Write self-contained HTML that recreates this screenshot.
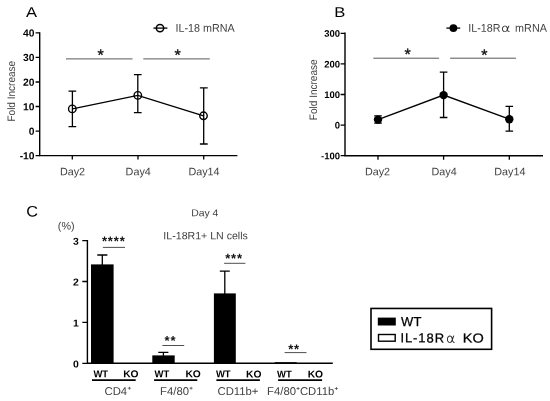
<!DOCTYPE html>
<html><head><meta charset="utf-8"><title>Figure</title>
<style>
html,body{margin:0;padding:0;background:#fff;}
body{width:550px;height:401px;overflow:hidden;}
svg{display:block;font-family:"Liberation Sans",sans-serif;}
.tk{font-weight:bold;font-size:10px;fill:#000;text-anchor:end;}
.g{fill:#424242;}
.ax{stroke:#000;stroke-width:1.4;fill:none;}
.th{stroke:#000;stroke-width:1.3;fill:none;}
.sig{stroke:#444;stroke-width:0.9;fill:none;}
.star{font-size:16px;fill:#111;stroke:#111;stroke-width:0.35px;text-anchor:middle;}
.star2{font-size:13px;font-weight:bold;letter-spacing:0.85px;fill:#111;text-anchor:middle;}
.bw{font-weight:bold;font-size:10px;fill:#000;}
text:not([transform]){transform:rotate(0.03deg);transform-origin:275px 200px;}
</style></head><body>
<svg width="550" height="401" viewBox="0 0 550 401">
<rect width="550" height="401" fill="#fff"/>
<g text-rendering="geometricPrecision">

<!-- Panel A -->
<text x="26" y="17.1" font-size="14.3" fill="#000" textLength="11" lengthAdjust="spacingAndGlyphs">A</text>
<g transform="translate(0,0.3)">
<g class="ax">
<path d="M39.7 32 V155.3 M39 155.3 H237.4"/>
</g>
<g class="th">
<path d="M35.6 32.6H39.7 M35.6 57.1H39.7 M35.6 81.7H39.7 M35.6 106.2H39.7 M35.6 130.8H39.7 M35.6 155.3H39.7"/>
<path d="M72.3 155.3V159.3 M138 155.3V159.3 M203.7 155.3V159.3"/>
</g>
<g class="tk" style="font-size:10.3px">
<text x="34.5" y="36.4">40</text><text x="34.5" y="60.9">30</text><text x="34.5" y="85.5">20</text>
<text x="34.5" y="110.0">10</text><text x="34.5" y="134.6">0</text><text x="34.5" y="159.1">-10</text>
</g>
</g>
<text class="g" font-size="10.8" text-anchor="middle" transform="translate(15.2,91.2) rotate(-90)" textLength="60.7" lengthAdjust="spacingAndGlyphs">Fold Increase</text>
<g class="g" font-size="10.8" text-anchor="middle">
<text x="72.5" y="175.3">Day2</text><text x="138.2" y="175.3">Day4</text><text x="204" y="175.3">Day14</text>
</g>
<!-- data A -->
<g class="th">
<path d="M72.4 91.2V126.7 M68.5 91.2H76.2 M68.5 126.7H76.2"/>
<path d="M137.8 74.7V112.6 M133.9 74.7H141.6 M133.9 112.6H141.6"/>
<path d="M203.7 87.9V144 M199.9 87.9H207.7 M199.9 144H207.7"/>
<path d="M72.4 108.9L137.8 95.4L203.6 115.8" stroke-width="1.4"/>
</g>
<g fill="none" stroke="#000" stroke-width="1.4">
<circle cx="72.3" cy="108.9" r="3.75"/><circle cx="137.8" cy="95.4" r="3.75"/><circle cx="203.5" cy="115.8" r="3.75"/>
</g>
<!-- sig A -->
<path class="sig" d="M66 58.9H132.5 M143.3 58.9H209.8"/>
<text class="star" x="100.6" y="60.5">*</text><text class="star" x="177.5" y="60.5">*</text>
<!-- legend A -->
<path class="th" d="M153.4 28.1H167.4" stroke-width="1.4"/>
<circle cx="160" cy="28.1" r="3.7" fill="none" stroke="#000" stroke-width="1.5"/>
<text class="g" x="175.4" y="31.9" font-size="11.2" textLength="59.2" lengthAdjust="spacingAndGlyphs">IL-18 mRNA</text>

<!-- Panel B -->
<text x="334.2" y="17.1" font-size="14.1" fill="#000" textLength="11.1" lengthAdjust="spacingAndGlyphs">B</text>
<g transform="translate(0,0.4)">
<g class="ax">
<path d="M345 32.2 V155.3 M344.3 155.3 H543"/>
</g>
<g class="th">
<path d="M340.6 32.9H345 M340.6 63.5H345 M340.6 94.1H345 M340.6 124.7H345 M340.6 155.3H345"/>
<path d="M378 155.3V159.3 M443.6 155.3V159.3 M509.3 155.3V159.3"/>
</g>
<g class="tk" style="font-size:9.5px">
<text x="340" y="36.4">300</text><text x="340" y="67">200</text><text x="340" y="97.6">100</text>
<text x="340" y="128.2">0</text><text x="340" y="158.8">-100</text>
</g>
</g>
<text class="g" font-size="10.8" text-anchor="middle" transform="translate(316.9,89.8) rotate(-90)" textLength="60.7" lengthAdjust="spacingAndGlyphs">Fold Increase</text>
<g class="g" font-size="10.8" text-anchor="middle">
<text x="377.5" y="175.2">Day2</text><text x="444.1" y="175.2">Day4</text><text x="509.8" y="175.2">Day14</text>
</g>
<g class="th">
<path d="M378 115.9V123.2 M374.2 115.9H381.8 M374.2 123.2H381.8"/>
<path d="M443.6 72.1V117.5 M439.8 72.1H447.4 M439.8 117.5H447.4"/>
<path d="M509.3 106.4V131.2 M505.5 106.4H513.1 M505.5 131.2H513.1"/>
<path d="M378 119.6L443.6 95.1L509.3 119.2" stroke-width="1.4"/>
</g>
<g fill="#000">
<circle cx="378" cy="119.6" r="4.2"/><circle cx="443.6" cy="95.1" r="4.2"/><circle cx="509.3" cy="119.2" r="4.2"/>
</g>
<path class="sig" d="M373.3 58.2H439.1 M450.1 58.2H515.9"/>
<text class="star" x="407.5" y="59.6">*</text><text class="star" x="484.4" y="60.4">*</text>
<path class="th" d="M446.4 28.1H460.2"/>
<circle cx="453.4" cy="28.1" r="3.9" fill="#000"/>
<text class="g" y="31.7" font-size="11.2"><tspan x="468.2" textLength="32.2" lengthAdjust="spacingAndGlyphs">IL-18R</tspan><tspan x="500.9" font-family="'DejaVu Sans Light','DejaVu Sans',sans-serif" font-weight="200" font-size="10.6" textLength="9.4" lengthAdjust="spacingAndGlyphs" fill="#222" stroke="#222" stroke-width="0.2">α</tspan><tspan x="515" textLength="31.8" lengthAdjust="spacingAndGlyphs">mRNA</tspan></text>

<!-- Panel C -->
<text x="26.3" y="216.7" font-size="15.2" fill="#000" textLength="11.7" lengthAdjust="spacingAndGlyphs">C</text>
<text class="g" x="57.8" y="229.7" font-size="10.8" textLength="16.8" lengthAdjust="spacingAndGlyphs">(%)</text>
<text class="g" x="191.2" y="216.3" font-size="10" textLength="27.2" lengthAdjust="spacingAndGlyphs">Day 4</text>
<text class="g" x="163.4" y="239.2" font-size="10.5" textLength="84.5" lengthAdjust="spacingAndGlyphs">IL-18R1+ LN cells</text>
<g class="ax">
<path d="M87.4 240.1 V363.3 M86.7 363.3 H332.8"/>
</g>
<g class="th">
<path d="M82.3 240.7H87.4 M82.3 281.5H87.4 M82.3 322.4H87.4 M82.3 363.3H87.4"/>
</g>
<g class="tk" style="font-size:10px">
<text x="78.8" y="244.8" textLength="5.8" lengthAdjust="spacingAndGlyphs">3</text><text x="78.8" y="285.7" textLength="5.8" lengthAdjust="spacingAndGlyphs">2</text><text x="78.8" y="326.7" textLength="5.8" lengthAdjust="spacingAndGlyphs">1</text><text x="78.8" y="367.6" textLength="5.8" lengthAdjust="spacingAndGlyphs">0</text>
</g>
<!-- bars -->
<g fill="#000">
<rect x="91" y="264.4" width="22.6" height="98.9"/>
<rect x="152.3" y="355.4" width="22.4" height="7.9"/>
<rect x="213.9" y="293.4" width="21.9" height="69.9"/>
<rect x="274.8" y="362.2" width="21.9" height="1.1"/>
</g>
<g class="th">
<path d="M102.3 255V265 M97.3 255H107.4"/>
<path d="M163.4 352.4V356 M158.3 352.4H168.4"/>
<path d="M224.8 271.2V294 M219.8 271.2H229.8"/>
</g>
<path class="sig" d="M102.9 247.4H125 M162.4 345.5H184.2 M224.1 263.3H245.4 M284.6 352.6H306.5" style="stroke:#3a3a3a"/>
<g class="star2">
<text x="113.8" y="245.6">****</text><text x="170.6" y="345.1">**</text><text x="234.1" y="262.7">***</text><text x="294.2" y="353.5">**</text>
</g>
<g class="bw">
<text x="93.5" y="377.4" textLength="14.7" lengthAdjust="spacingAndGlyphs">WT</text><text x="123.3" y="377.4" textLength="15.4" lengthAdjust="spacingAndGlyphs">KO</text>
<text x="154.7" y="377.4" textLength="14.7" lengthAdjust="spacingAndGlyphs">WT</text><text x="185.5" y="377.4" textLength="15.4" lengthAdjust="spacingAndGlyphs">KO</text>
<text x="216.0" y="377.4" textLength="14.7" lengthAdjust="spacingAndGlyphs">WT</text><text x="246.1" y="377.4" textLength="15.4" lengthAdjust="spacingAndGlyphs">KO</text>
<text x="277.2" y="377.4" textLength="14.7" lengthAdjust="spacingAndGlyphs">WT</text><text x="307.8" y="377.4" textLength="15.4" lengthAdjust="spacingAndGlyphs">KO</text>
</g>
<path d="M92 380.1H135.7 M154.1 380.1H197.3 M216.4 380.1H259.9 M278.1 380.1H322.1" stroke="#000" stroke-width="1.6"/>
<g class="g" font-size="11.3">
<text x="104.6" y="395">CD4<tspan dx="0.3" font-size="6.2" font-weight="bold" dy="-4.6">+</tspan></text>
<text x="160.2" y="395">F4/80<tspan dx="0.3" font-size="6.2" font-weight="bold" dy="-4.6">+</tspan></text>
<text x="217.6" y="395">CD11b+</text>
<text x="267.2" y="395">F4/80<tspan dx="0.3" font-size="6.2" font-weight="bold" dy="-4.6">+</tspan><tspan dy="4.6">CD11b</tspan><tspan dx="0.3" font-size="6.2" font-weight="bold" dy="-4.6">+</tspan></text>
</g>
<!-- legend C -->
<rect x="371" y="308.45" width="120.6" height="40.85" fill="#fff" stroke="#000" stroke-width="1.6"/>
<rect x="377.8" y="317.6" width="18" height="7.9" fill="#000"/>
<rect x="378.5" y="334.5" width="16.7" height="6.7" fill="#fff" stroke="#000" stroke-width="1.4"/>
<text x="401.2" y="326" font-size="13" fill="#000" stroke="#000" stroke-width="0.25">WT</text>
<text y="342.3" font-size="13" fill="#000" stroke="#000" stroke-width="0.25"><tspan x="400.5" textLength="43.6" lengthAdjust="spacing">IL-18R</tspan><tspan x="446.1" font-family="'DejaVu Sans Light','DejaVu Sans',sans-serif" font-weight="200" font-size="12.2" textLength="9.3" lengthAdjust="spacingAndGlyphs" fill="#111" stroke="#111" stroke-width="0.25">α</tspan><tspan x="462.8" textLength="21" lengthAdjust="spacingAndGlyphs">KO</tspan></text>
</g>
</svg>
</body></html>
